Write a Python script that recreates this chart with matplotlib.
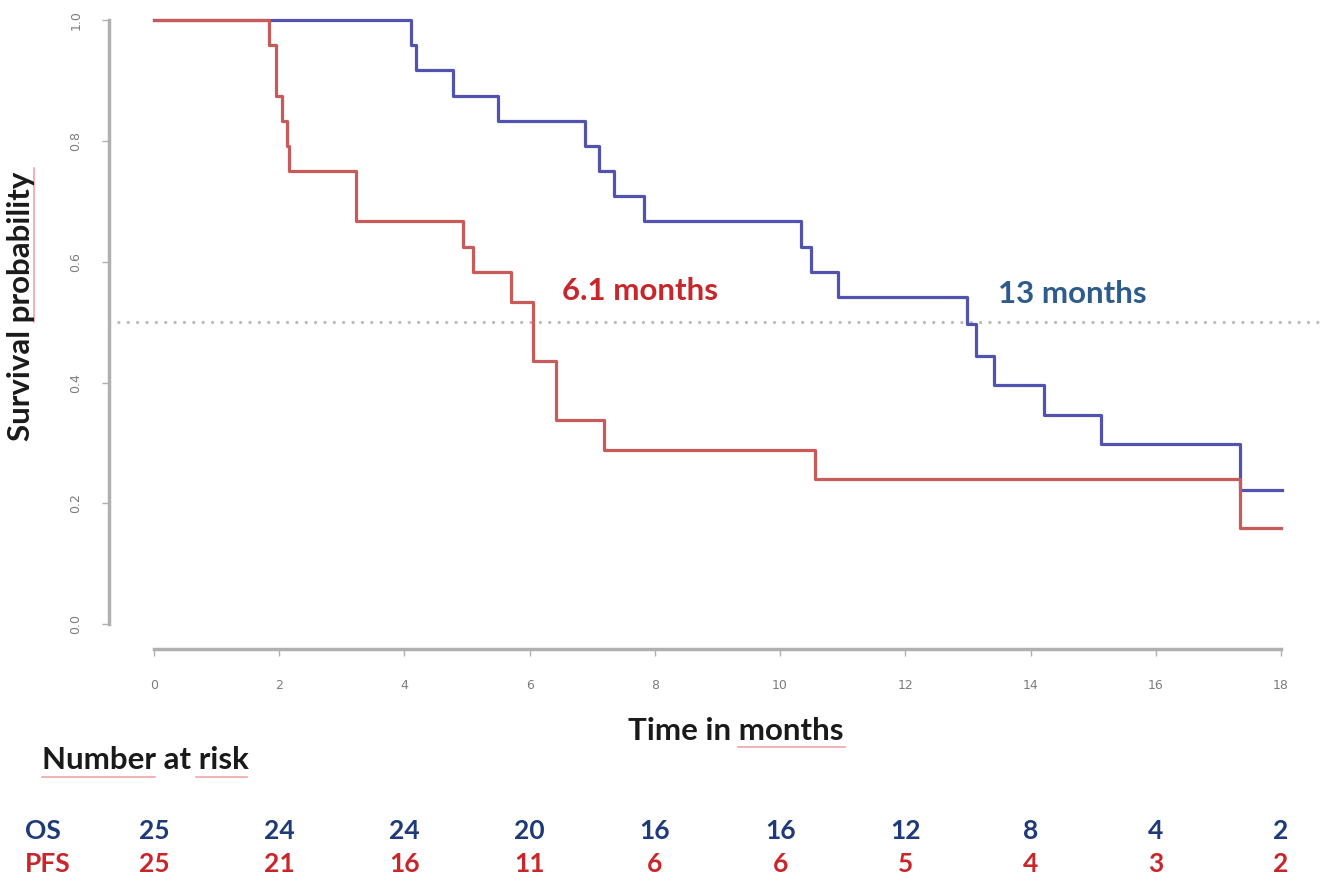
import matplotlib
matplotlib.use("Agg")
import matplotlib.pyplot as plt
import matplotlib.transforms as mtransforms
from matplotlib.lines import Line2D

# Kaplan-Meier steps (months, survival)
os_time = [0, 4.10, 4.18, 4.77, 5.50, 6.88, 7.11, 7.34, 7.82, 10.33, 10.50,
           10.93, 12.98, 13.13, 13.42, 14.21, 15.12, 17.34, 18.02]
os_surv = [1.0, 0.958, 0.917, 0.875, 0.833, 0.792, 0.75, 0.708, 0.667, 0.625,
           0.583, 0.542, 0.497, 0.444, 0.396, 0.347, 0.298, 0.222, 0.222]

pfs_time = [0, 1.83, 1.94, 2.05, 2.12, 2.16, 3.22, 4.93, 5.09, 5.70, 6.05,
            6.42, 7.18, 10.55, 17.35, 18.0]
pfs_surv = [1.0, 0.958, 0.875, 0.833, 0.792, 0.75, 0.667, 0.625, 0.583, 0.534,
            0.435, 0.338, 0.289, 0.241, 0.16, 0.16]

risk_times = [0, 2, 4, 6, 8, 10, 12, 14, 16, 18]
os_risk = [25, 24, 24, 20, 16, 16, 12, 8, 4, 2]
pfs_risk = [25, 21, 16, 11, 6, 6, 5, 4, 3, 2]

x_ticks = [0, 2, 4, 6, 8, 10, 12, 14, 16, 18]
y_ticks = [0.0, 0.2, 0.4, 0.6, 0.8, 1.0]

W, H = 1328, 882
blue_line = "#5252b0"
red_line = "#c85a5a"
red_text = "#c8262b"
blue_text = "#2d5b8c"
navy = "#1f3a7a"
axis_grey = "#b0b0b0"
label_font = ["Lato", "DejaVu Sans"]
big = 22.5


def fpos(x, y):
    # pixel position -> figure fraction
    return x / W, 1 - y / H


fig = plt.figure(figsize=(W / 100, H / 100), dpi=100)
ax = fig.add_axes([109 / W, 1 - 648.5 / H, 1217 / W, 652.7 / H])
ax.set_xlim(-0.72, 18.72)
ax.set_ylim(-0.04, 1.04)

ax.axhline(0.5, color="#bdbdbd", lw=2.4, linestyle=(0, (0.01, 2.8)),
           dash_capstyle="round", zorder=1)
ax.step(os_time, os_surv, where="post", color=blue_line, lw=2.3, zorder=2)
ax.step(pfs_time, pfs_surv, where="post", color=red_line, lw=2.3, zorder=3)

for s in ["top", "right"]:
    ax.spines[s].set_visible(False)
ax.spines["left"].set_bounds(0, 1)
ax.spines["bottom"].set_bounds(0, 18)
for s in ["left", "bottom"]:
    ax.spines[s].set_color(axis_grey)
    ax.spines[s].set_linewidth(2.5)

ax.set_xticks(x_ticks)
ax.set_xticklabels([str(t) for t in x_ticks])
ax.set_yticks(y_ticks)
ax.set_yticklabels(["%.1f" % t for t in y_ticks], rotation=90, va="center")
ax.tick_params(axis="both", colors=axis_grey, labelcolor="#7c7c7c",
               labelsize=9, length=5, width=1)
ax.tick_params(axis="x", pad=17)
ax.tick_params(axis="y", pad=14)

ax.text(7.77, 0.551, "6.1 months", color=red_text, fontsize=big,
        fontweight="bold", family=label_font, ha="center", va="center")
ax.text(14.66, 0.546, "13 months", color=blue_text, fontsize=big,
        fontweight="bold", family=label_font, ha="center", va="center")

fig.text(*fpos(21, 306), "Survival probability", rotation=90, fontsize=big,
         fontweight="bold", family=label_font, color="#1a1a1a",
         ha="center", va="center")
fig.text(*fpos(736, 731), "Time in months", fontsize=big, fontweight="bold",
         family=label_font, color="#1a1a1a", ha="center", va="center")
fig.text(*fpos(42, 760), "Number at risk", fontsize=big, fontweight="bold",
         family=label_font, color="#1a1a1a", ha="left", va="center")

# number at risk table, x follows the time axis
trans = mtransforms.blended_transform_factory(ax.transData, fig.transFigure)
fig.text(*fpos(25, 831), "OS", fontsize=19, fontweight="bold",
         family=label_font, color=navy, ha="left", va="center")
fig.text(*fpos(25, 864), "PFS", fontsize=19, fontweight="bold",
         family=label_font, color=red_text, ha="left", va="center")
for t, n_os, n_pfs in zip(risk_times, os_risk, pfs_risk):
    ax.text(t, 1 - 831 / H, str(n_os), transform=trans, fontsize=19,
            fontweight="bold", family=label_font, color=navy,
            ha="center", va="center")
    ax.text(t, 1 - 864 / H, str(n_pfs), transform=trans, fontsize=19,
            fontweight="bold", family=label_font, color=red_text,
            ha="center", va="center")

# spell-check underlines from the original document
marks = [((34, 34), (168, 322)), ((738, 845), (747, 747)),
         ((42, 155), (777, 777)), ((196, 247), (777, 777))]
for xs, ys in marks:
    fig.add_artist(Line2D([x / W for x in xs], [1 - y / H for y in ys],
                          color="#f4a6a6", lw=1.2, transform=fig.transFigure))

fig.savefig("out.png", dpi=100)
